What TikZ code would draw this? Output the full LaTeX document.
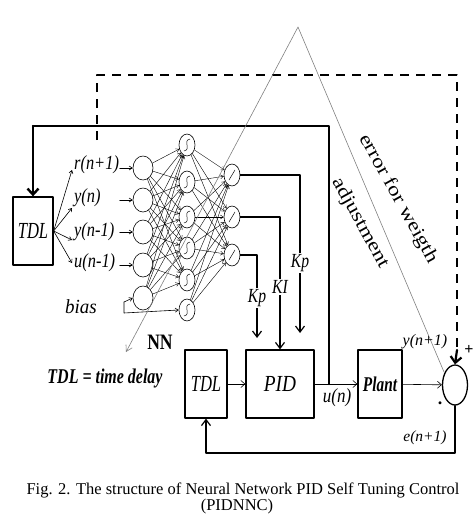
\documentclass[tikz,border=0pt]{standalone}
\usepackage{fontspec}
\usepackage{graphicx}
\setmainfont{Liberation Serif}
\usetikzlibrary{shapes.geometric,arrows.meta,positioning}

% narrow, tall lettering as in the figure
\newcommand{\narrow}[2][0.8]{\scalebox{#1}[1]{#2}}

\tikzset{
  blk/.style={draw,line width=1.3pt,minimum width=42pt,minimum height=68pt,inner sep=0pt,
    font=\fontsize{23}{23}\selectfont\itshape},
  neu/.style={draw,ellipse,line width=0.6pt,minimum width=20pt,minimum height=24pt,inner sep=0pt},
  hneu/.style={draw,ellipse,line width=0.6pt,minimum width=16pt,minimum height=22pt,inner sep=0pt},
  syn/.style={line width=0.4pt,-{Straight Barb[length=3pt,width=4pt]}},
  thin arrow/.style={line width=0.6pt,-{Straight Barb[length=4pt,width=7pt]}},
  main line/.style={line width=2.4pt},
  gain line/.style={line width=1.2pt,-{Straight Barb[length=6pt,width=9pt]}},
  lbl/.style={font=\fontsize{20}{20}\selectfont\itshape,inner sep=0pt},
  gain/.style={font=\fontsize{20}{20}\selectfont\itshape,fill=white,inner sep=1pt},
  slant text/.style={rotate=-61,font=\fontsize{19}{19}\selectfont,inner sep=0pt},
}

\begin{document}
\begin{tikzpicture}[x=1pt,y=-1pt,line cap=round,line join=round]
\useasboundingbox (0,0) rectangle (474,514);

% blocks
\node[blk,minimum width=40pt] (tdlA) at (33,231) {\narrow[0.72]{TDL}};
\node[blk] (tdlB) at (206,384) {\narrow[0.72]{TDL}};
\node[blk,minimum width=68pt] (pid) at (280,384) {\narrow[0.84]{PID}};
\node[blk,minimum width=44pt,font=\fontsize{21}{21}\selectfont\bfseries\itshape] (plant) at (380,384) {\narrow[0.73]{Plant}};
\node[draw,ellipse,line width=1.3pt,minimum width=25pt,minimum height=40pt,inner sep=0pt] (sum) at (455,385) {};

% network
\foreach \y [count=\i] in {168,200,232,265,298}
  \node[neu] (in\i) at (143,\y) {};
\foreach \y [count=\i] in {145,182,217,248,280,310}{
  \node[hneu] (hid\i) at (187,\y) {};
  \draw[line width=0.5pt] (184,\y+6) .. controls (192,\y+4) and (182,\y-4) .. (190,\y-6);
}
\foreach \y [count=\i] in {175,217,255}{
  \node[hneu] (out\i) at (232,\y) {};
  \draw[line width=0.5pt] (229,\y+5) -- (235,\y-5);
}
\foreach \i in {1,...,5}
  \foreach \j in {1,...,5}
    \draw[syn] (in\i) -- (hid\j);
\foreach \i in {1,...,6}
  \foreach \j in {1,...,3}
    \draw[syn] (hid\i) -- (out\j);

% inputs
\node[lbl,anchor=west] (lr) at (74,165) {\narrow[0.82]{r(n+1)}};
\node[lbl,anchor=west] (ly) at (74,198) {\narrow[0.82]{y(n)}};
\node[lbl,anchor=west] (ly1) at (74,232) {\narrow[0.82]{y(n-1)}};
\node[lbl,anchor=west] (lu1) at (74,263) {\narrow[0.82]{u(n-1)}};
\node[lbl,anchor=west] (lbias) at (65,307) {\narrow[0.95]{bias}};
\foreach \n/\y in {1/170,2/208,3/240,4/263}
  \draw[syn,line width=0.6pt] (tdlA.east) -- (72,\y);
\foreach \i in {1,...,4}
  \draw[syn,line width=0.6pt] (in\i.west) ++(-13,0) -- (in\i.west);
\coordinate (bs) at (124,302);
\draw[syn,line width=0.6pt] (bs) -- (in5.west);
\draw[syn,line width=0.6pt] (bs) -- ++(0,11) -- (hid6.west);

% gains
\draw[gain line] (out1.east) -- (300,175) -- (300,333);
\draw[gain line] (out2.east) -- (280,217) -- (pid.north);
\draw[gain line] (out3.east) -- (257,255) -- (257,338);
\node[gain] (kp) at (300,263) {\narrow[0.78]{Kp}};
\node[gain] (ki) at (280,287) {\narrow[0.78]{KI}};
\node[gain] (kd) at (257,298) {\narrow[0.78]{Kp}};

% loop
\coordinate (un) at (329,384);
\draw[thin arrow] (tdlB) -- (pid);
\draw[thin arrow] (pid) -- (plant);
\draw[thin arrow] (plant) -- (sum);
\draw[main line] (un) -- (329,126) -- (33,126);
\draw[main line,-{Straight Barb[length=6pt,width=11pt]}] (33,126) -- (tdlA.north);
\draw[line width=1.2pt,-{Straight Barb[length=6pt,width=9pt]}] (sum.south) -- (455,453) -- (206,453) -- (tdlB.south);
\coordinate (dstart) at (97,140);
\draw[main line,dash pattern=on 9pt off 7pt,line cap=butt] (dstart) -- (97,75) -- (457,75) -- (457,352);
\draw[line width=2.2pt,-{Straight Barb[length=6pt,width=11pt]}] (457,350) -- (sum.north);

% error path
\coordinate (apex) at (298,27);
\coordinate (eend) at (444,372);
\coordinate (nnend) at (126,352);
\draw[gray,line width=0.6pt,-{Straight Barb[length=6pt,width=7pt]}] (eend) -- (apex) -- (nnend);
\node[slant text] (err) at (398,199) {\narrow[1.2]{error for weigth}};
\node[slant text] (adj) at (360,223) {\narrow[1.2]{adjustment}};

% signal labels
\node[lbl] (lun) at (337,398) {\narrow[0.85]{u(n)}};
\node[font=\fontsize{16}{16}\selectfont\itshape,inner sep=0pt] (lyn) at (425,342) {y(n+1)};
\node[font=\fontsize{15.5}{15.5}\selectfont\itshape,inner sep=0pt] (len) at (425,438) {e(n+1)};
\node[font=\fontsize{16}{16}\selectfont\bfseries] (plus) at (469,350) {+};
\node[font=\fontsize{18}{18}\selectfont\bfseries] (minus) at (440,403) {.};

\node[font=\fontsize{22}{22}\selectfont\bfseries] (nn) at (160,342) {\narrow{NN}};
\node[font=\fontsize{21}{21}\selectfont\bfseries\itshape] (key) at (105,378) {\narrow[0.76]{TDL = time delay}};

% caption
\node[font=\fontsize{16.5}{16.5}\selectfont,inner sep=0pt] (cap1) at (243,490) {Fig. 2. The structure of Neural Network PID Self Tuning Control};
\node[font=\fontsize{16.5}{16.5}\selectfont,inner sep=0pt] (cap2) at (237,507) {(PIDNNC)};
\end{tikzpicture}
\end{document}
